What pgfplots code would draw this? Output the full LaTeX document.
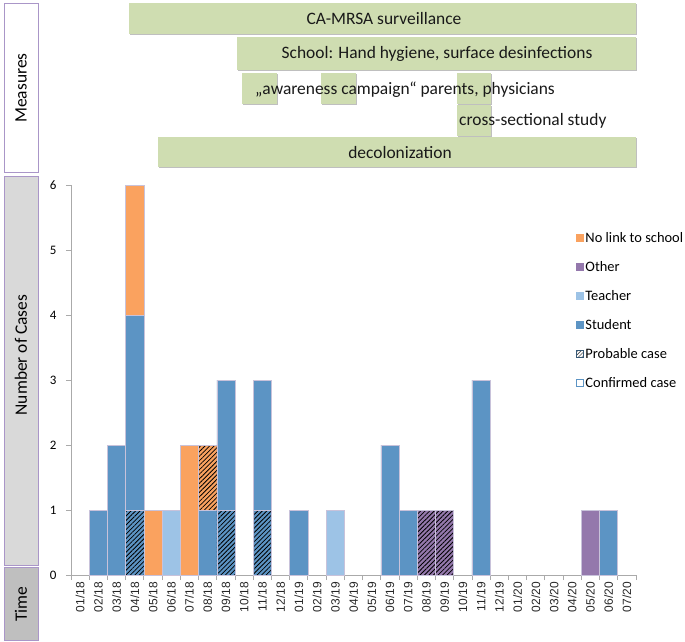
\documentclass[border=0pt]{standalone}
\usepackage{pgfplots}
\pgfplotsset{compat=1.18}
\usepackage{pgfplotstable}
\usepackage{fontspec}
\setmainfont{Carlito}
\newfontfamily\arialf{Liberation Sans}
\usetikzlibrary{patterns.meta,shadows}
\definecolor{student}{RGB}{92,148,196}
\definecolor{teacher}{RGB}{157,195,230}
\definecolor{nolink}{RGB}{250,162,95}
\definecolor{other}{RGB}{148,120,172}
\definecolor{mgreen}{RGB}{207,221,177}
\definecolor{barborder}{RGB}{200,194,218}
\definecolor{boxpurple}{RGB}{170,150,200}
\definecolor{gray1}{RGB}{217,217,217}
\definecolor{gray2}{RGB}{191,191,191}
\definecolor{axgray}{RGB}{170,170,170}

\pgfplotstableread{
m stP stC teach othP othC nlP nlC
0 0 0 0 0 0 0 0
1 0 1 0 0 0 0 0
2 0 2 0 0 0 0 0
3 1 3 0 0 0 0 2
4 0 0 0 0 0 0 1
5 0 0 1 0 0 0 0
6 0 0 0 0 0 0 2
7 0 1 0 0 0 1 0
8 1 2 0 0 0 0 0
9 0 0 0 0 0 0 0
10 1 2 0 0 0 0 0
11 0 0 0 0 0 0 0
12 0 1 0 0 0 0 0
13 0 0 0 0 0 0 0
14 0 0 1 0 0 0 0
15 0 0 0 0 0 0 0
16 0 0 0 0 0 0 0
17 0 2 0 0 0 0 0
18 0 1 0 0 0 0 0
19 0 0 0 1 0 0 0
20 0 0 0 1 0 0 0
21 0 0 0 0 0 0 0
22 0 3 0 0 0 0 0
23 0 0 0 0 0 0 0
24 0 0 0 0 0 0 0
25 0 0 0 0 0 0 0
26 0 0 0 0 0 0 0
27 0 0 0 0 0 0 0
28 0 0 0 0 1 0 0
29 0 1 0 0 0 0 0
30 0 0 0 0 0 0 0
}\cases

\tikzset{hatch/.style={postaction={pattern={Lines[angle=45,distance=3.2bp,line width=0.8bp]},pattern color=black}}}

\begin{document}
\begin{tikzpicture}
\path[use as bounding box] (0,0) rectangle (685bp,-642bp);

% left header boxes
\draw[draw=boxpurple, fill=white, line width=1bp] (4bp,-3bp) rectangle (38bp,-172bp);
\node[rotate=90, font=\fontsize{17.5}{18}\selectfont] at (21bp,-88bp) {Measures};
\draw[draw=boxpurple, fill=gray1, line width=1bp] (4bp,-176bp) rectangle (38bp,-565bp);
\node[rotate=90, font=\fontsize{17.5}{18}\selectfont] at (21bp,-355bp) {Number of Cases};
\draw[draw=boxpurple, fill=gray2, line width=1bp] (4bp,-567bp) rectangle (38bp,-640bp);
\node[rotate=90, font=\fontsize{17.5}{18}\selectfont] at (21bp,-604bp) {Time};

% measures panel
\begin{axis}[at={(71bp,-172bp)}, anchor=south west, scale only axis,
  width=565bp, height=172bp, xmin=71, xmax=636, ymin=0, ymax=172,
  y dir=reverse, hide axis, clip=false]
\tikzset{mbox/.style={fill=mgreen, drop shadow={shadow xshift=0.8bp, shadow yshift=-1.3bp, fill=black, opacity=0.25}}}
\fill[mbox] (axis cs:129,3) rectangle (axis cs:636,34);
\fill[mbox] (axis cs:237,37) rectangle (axis cs:636,70);
\fill[mbox] (axis cs:242,73) rectangle (axis cs:277,104);
\fill[mbox] (axis cs:321,73) rectangle (axis cs:356,104);
\fill[mbox] (axis cs:457,73) rectangle (axis cs:491,104);
\fill[mbox] (axis cs:457,105) rectangle (axis cs:491,136);
\fill[mbox] (axis cs:158,137) rectangle (axis cs:636,167);
\tikzset{mtext/.style={font=\fontsize{17.5}{18}\selectfont, text=black!90, inner sep=0pt}}
\node[mtext] at (axis cs:384,19) {CA-MRSA surveillance};
\node[mtext] at (axis cs:437,54) {School: Hand hygiene, surface desinfections};
\node[mtext] at (axis cs:405,90) {„awareness campaign“ parents, physicians};
\node[mtext, anchor=west] at (axis cs:459,121) {cross-sectional study};
\node[mtext] at (axis cs:400,153) {decolonization};
\end{axis}

% main chart
\begin{axis}[at={(71bp,-575bp)}, anchor=south west, scale only axis,
  width=565bp, height=390bp,
  xmin=-0.5, xmax=30.5, ymin=0, ymax=6,
  ybar stacked, bar width=1,
  axis x line*=bottom, axis y line*=left,
  axis line style={draw=axgray, line width=0.9bp},
  tick style={draw=axgray, line width=0.9bp},
  tick align=outside, major tick length=5bp,
  xtick={-0.5,0.5,...,30.5},
  x tick label as interval,
  xticklabels={01/18,02/18,03/18,04/18,05/18,06/18,07/18,08/18,09/18,10/18,11/18,12/18,01/19,02/19,03/19,04/19,05/19,06/19,07/19,08/19,09/19,10/19,11/19,12/19,01/20,02/20,03/20,04/20,05/20,06/20,07/20},
  xticklabel style={rotate=90, anchor=east, font=\arialf\fontsize{12}{12}\selectfont, text=black!85, inner sep=2bp},
  ytick={0,...,6},
  /pgf/number format/assume math mode=true,
  yticklabel style={font=\fontsize{13}{13}\selectfont, xshift=-6bp},
  clip=false,
  every axis plot/.append style={draw=barborder, line width=0.6bp},
  legend style={at={(0.893,0.884)}, anchor=north west, draw=none, fill=none,
    font=\fontsize{14.5}{15}\selectfont, row sep=13.5bp, inner sep=0pt,
    cells={anchor=west}},
]
\addplot[fill=student, hatch, forget plot] table[x=m,y=stP]{\cases};
\addplot[fill=student, forget plot] table[x=m,y=stC]{\cases};
\addplot[fill=teacher, forget plot] table[x=m,y=teach]{\cases};
\addplot[fill=other, hatch, forget plot] table[x=m,y=othP]{\cases};
\addplot[fill=other, forget plot] table[x=m,y=othC]{\cases};
\addplot[fill=nolink, hatch, forget plot] table[x=m,y=nlP]{\cases};
\addplot[fill=nolink, forget plot] table[x=m,y=nlC]{\cases};

\addlegendimage{legend image code/.code={\fill[nolink] (0bp,-3.5bp) rectangle (7bp,3.5bp);}}
\addlegendentry{No link to school}
\addlegendimage{legend image code/.code={\fill[other] (0bp,-3.5bp) rectangle (7bp,3.5bp);}}
\addlegendentry{Other}
\addlegendimage{legend image code/.code={\fill[teacher] (0bp,-3.5bp) rectangle (7bp,3.5bp);}}
\addlegendentry{Teacher}
\addlegendimage{legend image code/.code={\fill[student] (0bp,-3.5bp) rectangle (7bp,3.5bp);}}
\addlegendentry{Student}
\addlegendimage{legend image code/.code={\draw[draw=student!60!black, fill=white, line width=0.6bp, postaction={pattern={Lines[angle=45,distance=2.5bp,line width=0.6bp]},pattern color=black!70}] (0bp,-3.5bp) rectangle (7bp,3.5bp);}}
\addlegendentry{Probable case}
\addlegendimage{legend image code/.code={\draw[draw=student, fill=white, line width=0.7bp] (0bp,-3.5bp) rectangle (7bp,3.5bp);}}
\addlegendentry{Confirmed case}
\end{axis}
\end{tikzpicture}
\end{document}
